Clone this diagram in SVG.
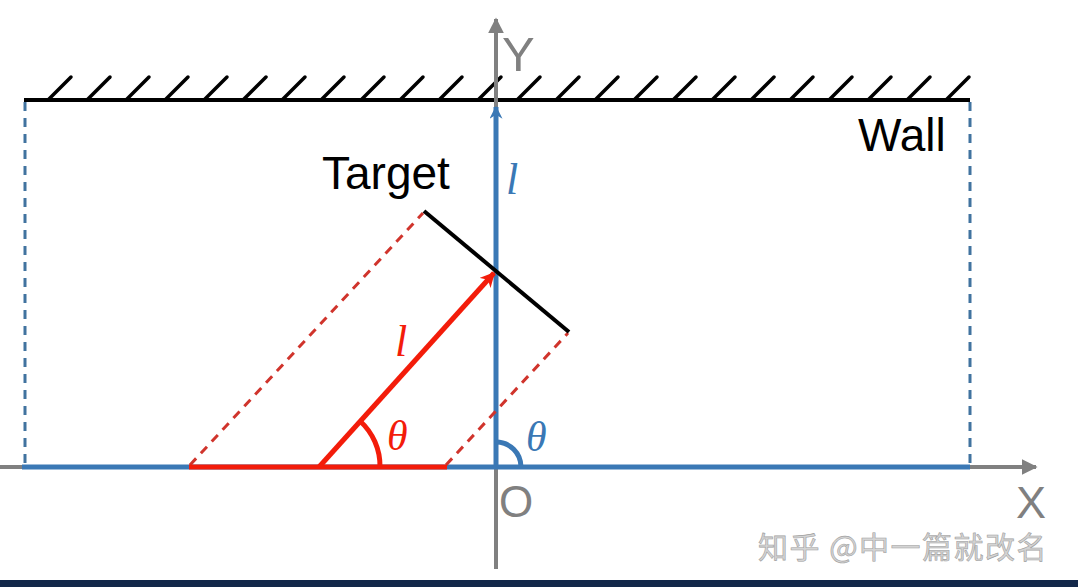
<svg xmlns="http://www.w3.org/2000/svg" width="1078" height="587" viewBox="0 0 1078 587">
<defs>
<style>
.gray{stroke:#808080;stroke-width:4;fill:none}
.blue{stroke:#3A78B5;stroke-width:5;fill:none}
.red{stroke:#F31C0A;stroke-width:5;fill:none}
.rdash{stroke:#D0342C;stroke-width:3;stroke-dasharray:9 7;fill:none}
.bdash{stroke:#41739F;stroke-width:3;stroke-dasharray:9 7;fill:none}
.wall{stroke:#000;stroke-width:4;fill:none}
.hatch{stroke:#000;stroke-width:3.5;fill:none;stroke-linecap:round}
.lbl{font-family:"Liberation Sans",Arial,sans-serif}
.math{font-family:"Liberation Serif","DejaVu Serif",serif;font-style:italic}
</style>
<marker id="arrGray" viewBox="0 0 10 10" refX="9" refY="5" markerWidth="4" markerHeight="4" orient="auto" markerUnits="strokeWidth"><path d="M0,0 L10,5 L0,10 z" fill="#808080"/></marker>
<marker id="arrBlue" viewBox="0 0 10 10" refX="9" refY="5" markerWidth="2.6" markerHeight="2.6" orient="auto" markerUnits="strokeWidth"><path d="M0,0 L10,5 L0,10 L3,5 z" fill="#3A78B5"/></marker>
<marker id="arrRed" viewBox="0 0 10 10" refX="9" refY="5" markerWidth="3" markerHeight="3" orient="auto" markerUnits="strokeWidth"><path d="M0,0 L10,5 L0,10 L3,5 z" fill="#F31C0A"/></marker>
</defs>
<rect width="1078" height="587" fill="#fff"/>
<g id="wall">
<line class="wall" x1="24" y1="100" x2="970" y2="100"/>
<g id="hatches">
<line class="hatch" x1="48" y1="100" x2="71" y2="77"/>
<line class="hatch" x1="87" y1="100" x2="110" y2="77"/>
<line class="hatch" x1="126" y1="100" x2="149" y2="77"/>
<line class="hatch" x1="165" y1="100" x2="188" y2="77"/>
<line class="hatch" x1="204" y1="100" x2="227" y2="77"/>
<line class="hatch" x1="243" y1="100" x2="266" y2="77"/>
<line class="hatch" x1="282" y1="100" x2="305" y2="77"/>
<line class="hatch" x1="321" y1="100" x2="344" y2="77"/>
<line class="hatch" x1="361" y1="100" x2="384" y2="77"/>
<line class="hatch" x1="400" y1="100" x2="423" y2="77"/>
<line class="hatch" x1="439" y1="100" x2="462" y2="77"/>
<line class="hatch" x1="478" y1="100" x2="501" y2="77"/>
<line class="hatch" x1="517" y1="100" x2="540" y2="77"/>
<line class="hatch" x1="556" y1="100" x2="579" y2="77"/>
<line class="hatch" x1="595" y1="100" x2="618" y2="77"/>
<line class="hatch" x1="634" y1="100" x2="657" y2="77"/>
<line class="hatch" x1="673" y1="100" x2="696" y2="77"/>
<line class="hatch" x1="712" y1="100" x2="735" y2="77"/>
<line class="hatch" x1="751" y1="100" x2="774" y2="77"/>
<line class="hatch" x1="790" y1="100" x2="813" y2="77"/>
<line class="hatch" x1="829" y1="100" x2="852" y2="77"/>
<line class="hatch" x1="868" y1="100" x2="891" y2="77"/>
<line class="hatch" x1="907" y1="100" x2="930" y2="77"/>
<line class="hatch" x1="946" y1="100" x2="969" y2="77"/>
</g>
<text class="lbl" x="858" y="151" font-size="46" fill="#000">Wall</text>
</g>
<g id="connectors">
<line class="gray" x1="0" y1="467" x2="1036" y2="467" marker-end="url(#arrGray)"/>
<line class="gray" x1="496" y1="569" x2="496" y2="19" marker-end="url(#arrGray)"/>
<line class="bdash" x1="25" y1="102" x2="25" y2="465"/>
<line class="bdash" x1="970" y1="102" x2="970" y2="465"/>
<line class="blue" x1="22" y1="467" x2="970" y2="467"/>
<line class="blue" x1="496" y1="467" x2="496" y2="107" marker-end="url(#arrBlue)"/>
<path class="blue" d="M496,442 A25,25 0 0 1 521,467"/>
<line class="rdash" x1="190" y1="465" x2="423" y2="213"/>
<line class="rdash" x1="446" y1="465" x2="568" y2="333"/>
<line class="red" x1="189" y1="467" x2="447" y2="467"/>
<line class="red" x1="319" y1="467" x2="494" y2="273" marker-end="url(#arrRed)"/>
<path class="red" d="M360,421 A61,61 0 0 1 380,467"/>
</g>
<g id="target">
<line x1="424" y1="211" x2="569" y2="332" stroke="#000" stroke-width="4"/>
<text class="lbl" x="322" y="189" font-size="46" fill="#000">Target</text>
</g>
<g id="labels">
<text class="lbl" x="502" y="71" font-size="49" fill="#808080">Y</text>
<text class="lbl" x="1016" y="518" font-size="45" fill="#808080">X</text>
<text class="lbl" x="499" y="517" font-size="44" fill="#808080">O</text>
<text class="math" x="506" y="194" font-size="44" fill="#3A78B5">l</text>
<text class="math" x="395" y="356" font-size="44" fill="#F31C0A">l</text>
<text class="math" x="387" y="450" font-size="42" fill="#F31C0A">θ</text>
<text class="math" x="526" y="451" font-size="42" fill="#3A78B5">θ</text>
</g>
<g id="watermark">
<text x="758" y="558" font-size="30" letter-spacing="1.5" font-family="'Noto Sans CJK SC',sans-serif" fill="#d4d4d4" stroke="#a0a0a0" stroke-width="0.6">知乎 @中一篇就改名</text>
</g>
<rect x="0" y="580" width="1078" height="7" fill="#13284A"/>
</svg>
